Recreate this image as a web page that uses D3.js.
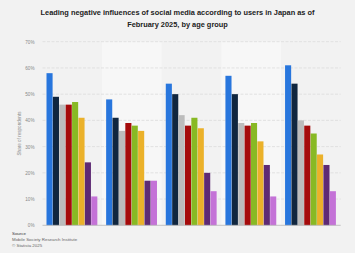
<!DOCTYPE html>
<html>
<head>
<meta charset="utf-8">
<script src="https://cdn.jsdelivr.net/npm/d3@7"></script>
<style>
  html, body { margin: 0; padding: 0; background: #f2f2f2; }
  svg { display: block; font-family: "Liberation Sans", Arial, sans-serif; }
</style>
</head>
<body>
<div id="chart"></div>
<script>
// age groups (not labelled in the picture)
var ageGroups = ['10s', '20s', '30s', '40s', '50s'];
var influences = ['Influence 1', 'Influence 2', 'Influence 3', 'Influence 4', 'Influence 5', 'Influence 6', 'Influence 7', 'Influence 8'];
var colors = ['#2876dd', '#10263f', '#bcbcbc', '#a50b0b', '#88b924', '#ebb12a', '#5e2a74', '#c472d7'];
// share of respondents (%) per age group, one value per influence
var values10s = [58, 49, 46, 46, 47, 41, 24, 11];
var values20s = [48, 41, 36, 39, 38, 36, 17, 17];
var values30s = [54, 50, 42, 38, 41, 37, 20, 13];
var values40s = [57, 50, 39, 38, 39, 32, 23, 11];
var values50s = [61, 54, 40, 38, 35, 27, 23, 13];
var yTicks = [0, 10, 20, 30, 40, 50, 60, 70];

function barChart() {
  var width = 355, height = 253;
  var margin = {top: 41.7, right: 14.3, bottom: 27.7, left: 42.5};
  var innerW = width - margin.left - margin.right;
  var innerH = height - margin.top - margin.bottom;
  var data = [values10s, values20s, values30s, values40s, values50s];

  var svg = d3.select("#chart")
              .append("svg")
                .attr("width", width)
                .attr("height", height);

  // title
  var title = svg.append("text")
      .attr("x", 177.5)
      .attr("text-anchor", "middle")
      .style("font-size", "7.4px")
      .style("font-weight", "bold")
      .style("fill", "#222");
  title.append("tspan").attr("x", 177.5).attr("y", 15).text("Leading negative influences of social media according to users in Japan as of");
  title.append("tspan").attr("x", 177.5).attr("y", 27).text("February 2025, by age group");

  var g = svg.append("g")
      .attr("transform", "translate(" + margin.left + "," + margin.top + ")");

  var x0 = d3.scaleBand().domain(ageGroups).range([0, innerW]);
  var x1 = d3.scaleBand().domain(influences).range([4, x0.bandwidth() - 4.5]).padding(0);
  var y = d3.scaleLinear().domain([0, 70]).range([innerH, 0]);

  // alternating bands
  g.selectAll(".band")
    .data(ageGroups.filter(function(d, i) { return i % 2 === 1; }))
    .enter().append("rect")
      .attr("x", function(d) { return x0(d); })
      .attr("y", 0)
      .attr("width", x0.bandwidth())
      .attr("height", innerH)
      .style("fill", "#f7f7f7");

  // gridlines
  g.selectAll(".grid")
    .data(yTicks.slice(1))
    .enter().append("line")
      .attr("x1", 0).attr("x2", innerW)
      .attr("y1", function(d) { return y(d); })
      .attr("y2", function(d) { return y(d); })
      .style("stroke", "#dcdcdc")
      .style("stroke-width", 0.8)
      .style("stroke-dasharray", "3,1.5");

  // y axis labels
  var yAxis = g.append("g")
      .call(d3.axisLeft(y).tickValues(yTicks).tickFormat(function(d) { return d + "%"; }).tickSize(0).tickPadding(8));
  yAxis.select(".domain").remove();
  yAxis.selectAll("text")
      .style("font-size", "4.6px")
      .style("fill", "#888")
      .style("font-family", "Liberation Sans, Arial, sans-serif");

  svg.append("text")
      .attr("transform", "translate(21," + (margin.top + innerH / 2) + ") rotate(-90)")
      .attr("text-anchor", "middle")
      .style("font-size", "4.6px")
      .style("fill", "#888")
      .text("Share of respondents");

  // bars
  var groups = g.selectAll(".group")
    .data(data)
    .enter().append("g")
      .attr("transform", function(d, i) { return "translate(" + x0(ageGroups[i]) + ",0)"; });

  groups.selectAll("rect")
    .data(function(d) { return d.map(function(v, j) { return {key: influences[j], value: v, color: colors[j]}; }); })
    .enter().append("rect")
      .attr("x", function(d) { return x1(d.key); })
      .attr("y", function(d) { return y(d.value); })
      .attr("width", x1.bandwidth() - 0.3)
      .attr("height", function(d) { return innerH - y(d.value); })
      .style("fill", function(d) { return d.color; });

  // baseline
  g.append("line")
      .attr("x1", 0).attr("x2", innerW)
      .attr("y1", innerH).attr("y2", innerH)
      .style("stroke", "#b5b5b5")
      .style("stroke-width", 0.8);

  // source
  var src = svg.append("g").style("font-size", "4.4px").style("fill", "#666");
  src.append("text").attr("x", 12).attr("y", 235).style("fill", "#333").text("Source");
  src.append("text").attr("x", 12).attr("y", 241).text("Mobile Society Research Institute");
  src.append("text").attr("x", 12).attr("y", 247).text("© Statista 2025");
}

barChart();
</script>
</body>
</html>
